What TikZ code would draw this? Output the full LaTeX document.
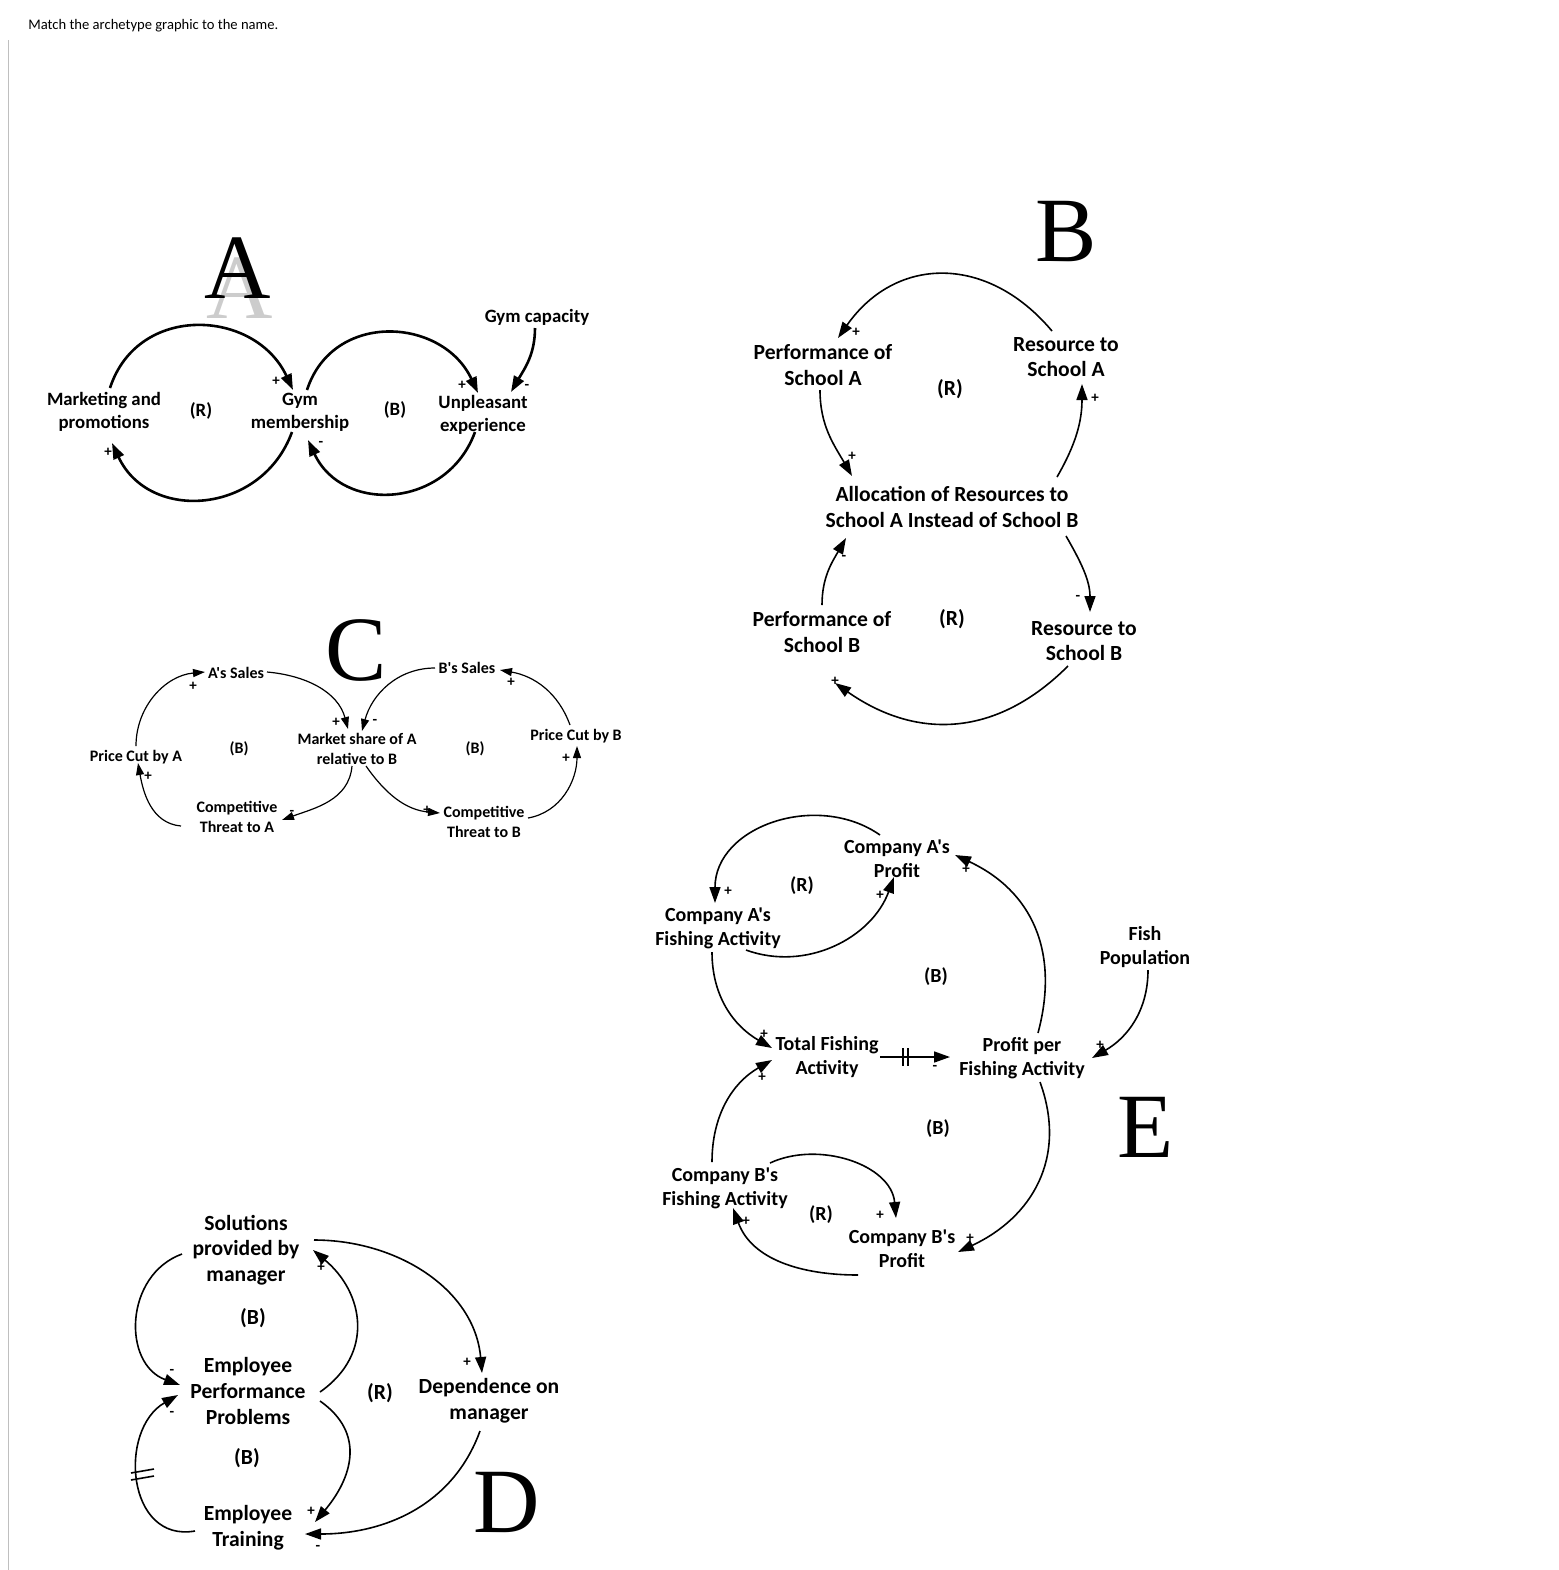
\documentclass[tikz,border=0pt]{standalone}
\usepackage{fontspec}
\setmainfont{Carlito}[Ligatures=TeXOff]
\newfontfamily\serifL{Liberation Serif}
\usetikzlibrary{arrows.meta}
\begin{document}
\begin{tikzpicture}[x=0.5pt,y=-0.5pt,
  lbl/.style={align=center,inner sep=0,font=\bfseries\fontsize{10.8}{12.8}\selectfont},
  lble/.style={align=center,inner sep=0,font=\bfseries\fontsize{10}{12}\selectfont},
  lbla/.style={align=center,inner sep=0,font=\bfseries\fontsize{9.4}{11.5}\selectfont},
  lblc/.style={align=center,inner sep=0,font=\bfseries\fontsize{8}{9.8}\selectfont},
  sg/.style={inner sep=0,font=\bfseries\fontsize{7.5}{8}\selectfont},
  big/.style={inner sep=0,font=\serifL\fontsize{46}{46}\selectfont},
  lnk/.style={-{Triangle[length=8pt,width=5.5pt]},line width=0.8pt},
  lnka/.style={-{Triangle[length=8pt,width=5.5pt]},line width=1.3pt},
  lnkc/.style={-{Triangle[length=6pt,width=4pt]},line width=0.6pt}]
\useasboundingbox (0,0) rectangle (1559,1570);
\draw[gray!50,line width=0.5pt] (8,40) -- (8,1570);
\node[anchor=west,inner sep=0,font=\fontsize{7.3}{8.5}\selectfont] (title) at (28,26) {Match the archetype graphic to the name.};
% ---------- A
\node[big,gray!40] (Ash) at (240,288) {A};
\node[big] (Alet) at (238,268) {A};
\node[lbla] (mk) at (104,412) {Marketing and\\promotions};
\node[lbla] (gym) at (300,412) {Gym\\membership};
\node[lbla] (unp) at (483,415) {Unpleasant\\experience};
\node[lbla] (cap) at (537,317) {Gym capacity};
\node[lbla] (aR) at (201,411) {(R)};
\node[lbla] (aB) at (395,410) {(B)};
\draw[lnka] (110,388) to[out=72,in=115,looseness=1.25] (293,390);
\draw[lnka] (292,432) to[out=-110,in=-65,looseness=1.25] (112,443);
\draw[lnka] (307,390) to[out=72,in=115,looseness=1.25] (478,393);
\draw[lnka] (475,432) to[out=-110,in=-65,looseness=1.25] (308,440);
\draw[lnka] (535,328) to[out=-90,in=60] (511,392);
\node[sg] at (276,381) {+}; \node[sg] at (108,452) {+}; \node[sg] at (462,385) {+};
\node[sg] at (527,387) {-}; \node[sg] at (321,444) {-};
% ---------- B
\node[big] (Blet) at (1066,232) {B};
\node[lbl] (pA) at (823,365) {Performance of\\School A};
\node[lbl] (rA) at (1066,357) {Resource to\\School A};
\node[lbl] (alloc) at (952,507) {Allocation of Resources to\\School A Instead of School B};
\node[lbl] (pB) at (822,632) {Performance of\\School B};
\node[lbl] (rB) at (1084,641) {Resource to\\School B};
\node[lbl] (bR1) at (950,389) {(R)};
\node[lbl] (bR2) at (952,619) {(R)};
\draw[lnk] (1052,331) to[out=130,in=55,looseness=1.2] (838,338);
\draw[lnk] (820,390) to[out=-90,in=120] (852,476);
\draw[lnk] (1057,477) to[out=60,in=-90] (1082,384);
\draw[lnk] (1066,536) to[out=-60,in=90] (1090,612);
\draw[lnk] (1068,666) to[out=-135,in=-35,looseness=1.1] (835,683);
\draw[lnk] (822,605) to[out=90,in=-120] (846,538);
\node[sg] at (856,332) {+}; \node[sg] at (852,456) {+}; \node[sg] at (1095,398) {+};
\node[sg] at (844,558) {-}; \node[sg] at (1078,598) {-}; \node[sg] at (835,681) {+};
% ---------- C
\node[big] (Clet) at (356,650) {C};
\node[lblc] (as) at (236,673) {A's Sales};
\node[lblc] (pa) at (136,757) {Price Cut by A};
\node[lblc] (ct) at (237,817) {Competitive\\Threat to A};
\node[lblc] (ms) at (357,749) {Market share of A\\relative to B};
\node[lblc] (bs) at (467,668) {B's Sales};
\node[lblc] (pb) at (576,736) {Price Cut by B};
\node[lblc] (ctb) at (484,822) {Competitive\\Threat to B};
\node[lblc] (cB1) at (239,749) {(B)};
\node[lblc] (cB2) at (475,749) {(B)};
\draw[lnkc] (267,672) to[out=-5,in=105] (348,729);
\draw[lnkc] (435,668) to[out=180,in=75] (362,731);
\draw[lnkc] (352,766) to[out=-95,in=20] (282,820);
\draw[lnkc] (181,826) to[out=175,in=-80] (138,763);
\draw[lnkc] (136,746) to[out=90,in=185] (205,672);
\draw[lnkc] (366,766) to[out=-55,in=175] (440,813);
\draw[lnkc] (528,818) to[out=10,in=-90] (577,746);
\draw[lnkc] (570,725) to[out=110,in=-10] (500,670);
\node[sg] at (193,686) {+}; \node[sg] at (336,722) {+}; \node[sg] at (375,722) {-};
\node[sg] at (148,776) {+}; \node[sg] at (292,813) {-}; \node[sg] at (427,810) {+};
\node[sg] at (566,758) {+}; \node[sg] at (511,682) {+};
% ---------- E
\node[big] (Elet) at (1146,1127) {E};
\node[lble] (cap2) at (897,859) {Company A's\\Profit};
\node[lble] (caf) at (718,928) {Company A's\\Fishing Activity};
\node[lble] (tfa) at (827,1057) {Total Fishing\\Activity};
\node[lble] (ppf) at (1022,1058) {Profit per\\Fishing Activity};
\node[lble] (fish) at (1145,947) {Fish\\Population};
\node[lble] (cbf) at (725,1188) {Company B's\\Fishing Activity};
\node[lble] (cbp) at (902,1249) {Company B's\\Profit};
\node[lble] (eR1) at (802,886) {(R)};
\node[lble] (eB1) at (936,977) {(B)};
\node[lble] (eB2) at (938,1129) {(B)};
\node[lble] (eR2) at (821,1215) {(R)};
\draw[lnk] (880,835) to[out=145,in=90,looseness=1.1] (715,903);
\draw[lnk] (746,950) to[out=-20,in=-110] (894,877);
\draw[lnk] (712,952) to[out=-90,in=150] (772,1048);
\draw[lnk] (1038,1033) to[out=75,in=-25,looseness=1.1] (955,855);
\draw[lnk] (1148,970) to[out=-90,in=30] (1092,1058);
\draw[lnk] (880,1057) -- (950,1057);
\draw[line width=0.8pt] (903,1048) -- (903,1066) (908,1048) -- (908,1066);
\draw[lnk] (712,1162) to[out=90,in=-150] (772,1060);
\draw[lnk] (1040,1082) to[out=-70,in=25,looseness=1.1] (958,1252);
\draw[lnk] (858,1275) to[out=180,in=-70] (733,1208);
\draw[lnk] (770,1163) to[out=25,in=95] (896,1218);
\node[sg] at (728,891) {+}; \node[sg] at (880,895) {+}; \node[sg] at (966,869) {+};
\node[sg] at (764,1034) {+}; \node[sg] at (762,1077) {+}; \node[sg] at (935,1068) {-};
\node[sg] at (1100,1045) {+}; \node[sg] at (746,1221) {+}; \node[sg] at (880,1215) {+};
\node[sg] at (970,1238) {+};
% ---------- D
\node[big] (Dlet) at (507,1502) {D};
\node[lbl] (sol) at (246,1250) {Solutions\\provided by\\manager};
\node[lbl] (epp) at (248,1391) {Employee\\Performance\\Problems};
\node[lbl] (et) at (248,1528) {Employee\\Training};
\node[lbl] (dep) at (489,1401) {Dependence on\\manager};
\node[lbl] (dB1) at (253,1318) {(B)};
\node[lbl] (dB2) at (247,1458) {(B)};
\node[lbl] (dR) at (380,1393) {(R)};
\draw[lnk] (182,1254) to[out=200,in=160,looseness=1.2] (180,1385);
\draw[lnk] (320,1392) to[out=35,in=-40,looseness=1.2] (313,1250);
\draw[lnk] (314,1240) to[out=0,in=95] (482,1373);
\draw[lnk] (320,1401) to[out=-35,in=50,looseness=1.2] (315,1522);
\draw[lnk] (195,1531) to[out=190,in=-150,looseness=1.3] (178,1395);
\draw[line width=0.8pt] (131,1473) -- (154,1469) (131,1480) -- (154,1476);
\draw[lnk] (480,1431) to[out=-110,in=0] (305,1534);
\node[sg] at (172,1372) {-}; \node[sg] at (172,1414) {-}; \node[sg] at (321,1267) {+};
\node[sg] at (467,1362) {+}; \node[sg] at (311,1511) {+}; \node[sg] at (318,1548) {-};
\end{tikzpicture}
\end{document}
